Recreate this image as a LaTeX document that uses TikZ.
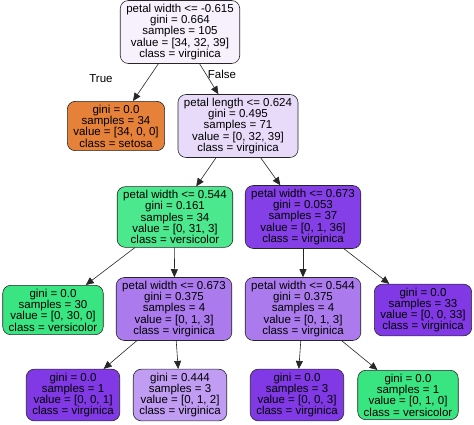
\documentclass[tikz,border=0pt]{standalone}
\usepackage{fontspec}
\setmainfont{Liberation Sans}
\usetikzlibrary{arrows.meta}
\definecolor{rootfill}{HTML}{F6F1FD}
\definecolor{setosafill}{HTML}{E58139}
\definecolor{lenfill}{HTML}{E8DBFA}
\definecolor{greenfill}{HTML}{4CE88D}
\definecolor{purplefill}{HTML}{853FE6}
\definecolor{purefill}{HTML}{8139E5}
\definecolor{vcolfill}{HTML}{39E581}
\definecolor{midfill}{HTML}{AB7BEE}
\definecolor{lightfill}{HTML}{C09CF2}
\tikzset{tree node/.style={draw=black!85, rounded corners=8pt, line width=0.6pt,
    align=center, font=\fontsize{11.5}{11.3}\selectfont, inner xsep=6pt, inner ysep=3.5pt}}
\tikzset{split edge/.style={draw=black!85, line width=0.6pt, -{Triangle[length=8pt,width=7pt]}}}
\tikzset{edge label/.style={font=\fontsize{11.5}{12}\selectfont}}

\begin{document}
\begin{tikzpicture}
      [x=1pt, y=-1pt]
      \useasboundingbox (0,0) rectangle (474,424);

      \node [tree node, fill=rootfill]   (root) at (180,  32) {petal width <= -0.615\\gini = 0.664\\samples = 105\\value = [34, 32, 39]\\class = virginica};

      \node [tree node, fill=setosafill] (l1n0) at (116, 126) {gini = 0.0\\samples = 34\\value = [34, 0, 0]\\class = setosa};
      \node [tree node, fill=lenfill]    (l1n1) at (238, 126) {petal length <= 0.624\\gini = 0.495\\samples = 71\\value = [0, 32, 39]\\class = virginica};

      \node [tree node, fill=greenfill]  (l2n0) at (175, 217) {petal width <= 0.544\\gini = 0.161\\samples = 34\\value = [0, 31, 3]\\class = versicolor};
      \node [tree node, fill=purplefill] (l2n1) at (303, 217) {petal width <= 0.673\\gini = 0.053\\samples = 37\\value = [0, 1, 36]\\class = virginica};

      \node [tree node, fill=vcolfill]   (l3n0) at ( 53, 310) {gini = 0.0\\samples = 30\\value = [0, 30, 0]\\class = versicolor};
      \node [tree node, fill=midfill]    (l3n1) at (174, 309) {petal width <= 0.673\\gini = 0.375\\samples = 4\\value = [0, 1, 3]\\class = virginica};
      \node [tree node, fill=midfill]    (l3n2) at (303, 309) {petal width <= 0.544\\gini = 0.375\\samples = 4\\value = [0, 1, 3]\\class = virginica};
      \node [tree node, fill=purefill]   (l3n3) at (423, 310) {gini = 0.0\\samples = 33\\value = [0, 0, 33]\\class = virginica};

      \node [tree node, fill=purefill]   (l4n0) at ( 73, 395) {gini = 0.0\\samples = 1\\value = [0, 0, 1]\\class = virginica};
      \node [tree node, fill=lightfill]  (l4n1) at (180, 395) {gini = 0.444\\samples = 3\\value = [0, 1, 2]\\class = virginica};
      \node [tree node, fill=purefill]   (l4n2) at (297, 395) {gini = 0.0\\samples = 3\\value = [0, 0, 3]\\class = virginica};
      \node [tree node, fill=vcolfill]   (l4n3) at (408, 395) {gini = 0.0\\samples = 1\\value = [0, 1, 0]\\class = versicolor};

      \draw [split edge] (root) -- (l1n0);
      \draw [split edge] (root) -- (l1n1);
      \draw [split edge] (l1n1) -- (l2n0);
      \draw [split edge] (l1n1) -- (l2n1);
      \draw [split edge] (l2n0) -- (l3n0);
      \draw [split edge] (l2n0) -- (l3n1);
      \draw [split edge] (l2n1) -- (l3n2);
      \draw [split edge] (l2n1) -- (l3n3);
      \draw [split edge] (l3n1) -- (l4n0);
      \draw [split edge] (l3n1) -- (l4n1);
      \draw [split edge] (l3n2) -- (l4n2);
      \draw [split edge] (l3n2) -- (l4n3);

      \node [edge label] (truelabel)  at (101, 79) {True};
      \node [edge label] (falselabel) at (222, 74) {False};
    \end{tikzpicture}
\end{document}
